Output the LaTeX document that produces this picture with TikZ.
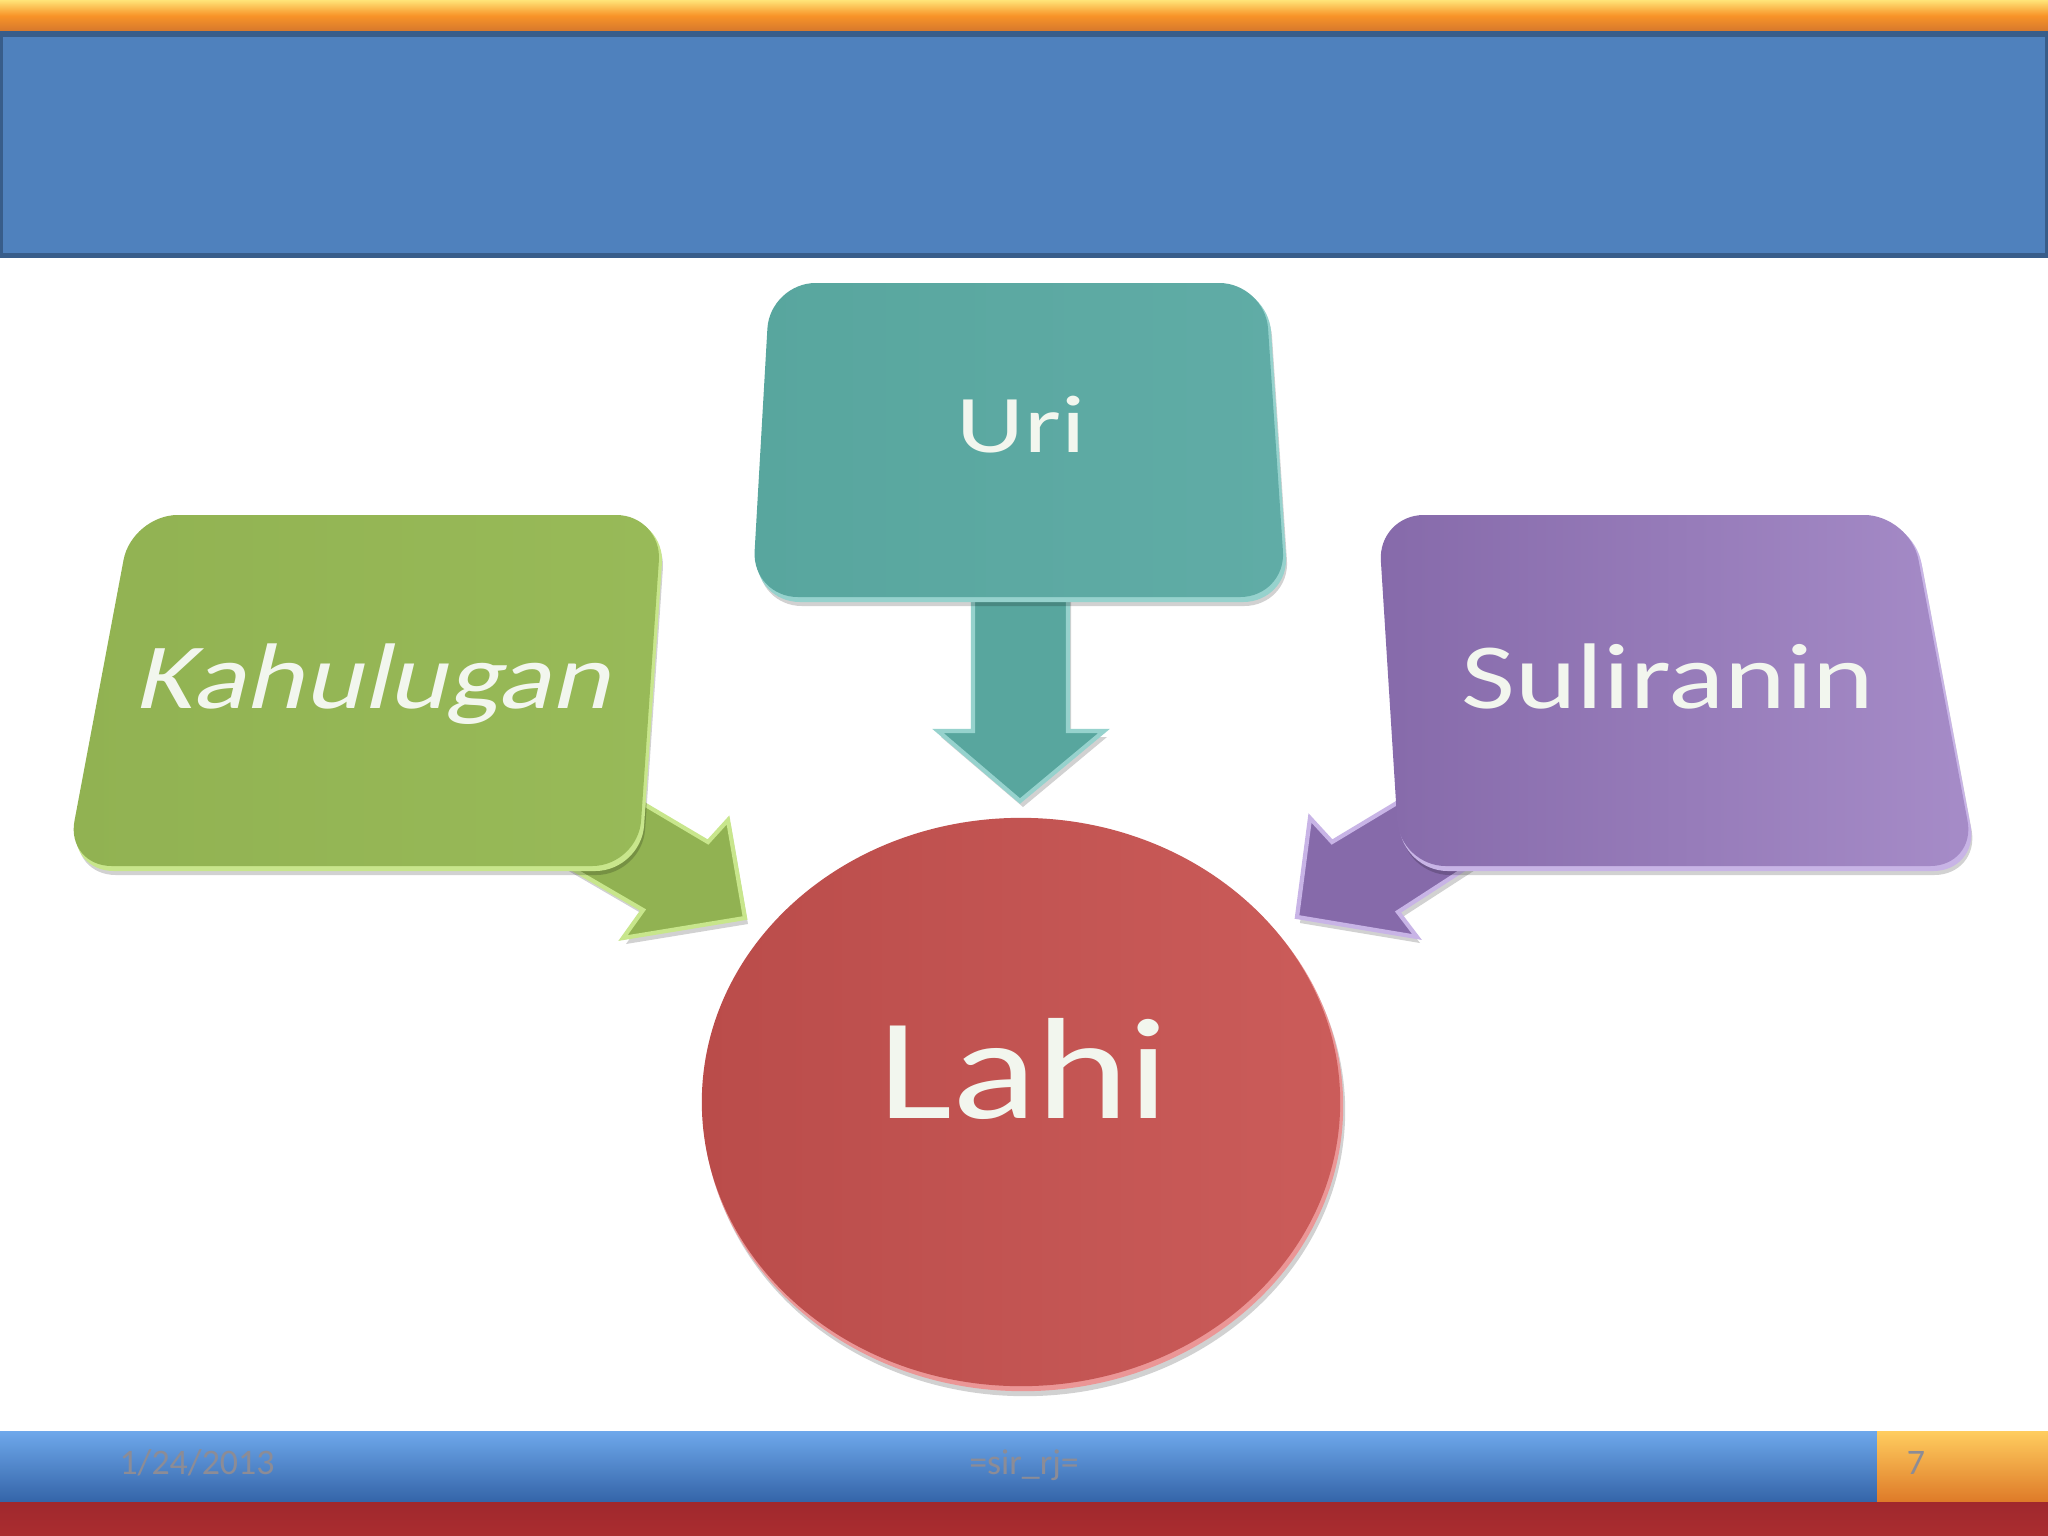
\documentclass[tikz,border=0pt]{standalone}
\usepackage{fontspec}
\setmainfont{Carlito}
\newfontfamily\slantfont{Carlito}[FakeSlant=0.2]
\usepackage{graphicx}
\definecolor{grnA}{RGB}{145,178,82}
\definecolor{grnB}{RGB}{152,186,88}
\definecolor{grnRim}{RGB}{200,230,140}
\definecolor{tealA}{RGB}{88,166,158}
\definecolor{tealB}{RGB}{96,172,166}
\definecolor{tealRim}{RGB}{150,210,205}
\definecolor{purA}{RGB}{134,106,170}
\definecolor{purB}{RGB}{166,140,200}
\definecolor{purRim}{RGB}{200,180,230}
\definecolor{redA}{RGB}{186,76,74}
\definecolor{redB}{RGB}{203,92,90}
\definecolor{redRim}{RGB}{235,150,150}
\definecolor{hdrBlue}{RGB}{79,129,189}
\definecolor{hdrEdge}{RGB}{56,93,138}
\definecolor{footGray}{RGB}{140,140,150}
\begin{document}
\begin{tikzpicture}[x=0.01cm,y=-0.01cm,
  lbl/.style={text={rgb,255:red,242;green,246;blue,238}, inner sep=0pt, anchor=base},
  foot/.style={text=footGray, inner sep=0pt, anchor=base, font=\fontsize{10.2pt}{12pt}\selectfont},
  shad/.style={fill=black, opacity=0.18},
  boxr/.style={rounded corners=13pt},
  ]
\useasboundingbox (0,0) rectangle (2048,1536);
\fill[white] (0,0) rectangle (2048,1536);

% ---------- header ----------
\shade[top color={rgb,255:red,255;green,228;blue,120}, bottom color={rgb,255:red,214;green,120;blue,45}, middle color={rgb,255:red,248;green,148;blue,40}] (0,0) rectangle (2048,31);
\fill[hdrEdge] (0,31) rectangle (2048,258);
\fill[hdrBlue] (3,37) rectangle (2045,253);

% ---------- footer ----------
\shade[top color={rgb,255:red,110;green,168;blue,235}, middle color={rgb,255:red,64;green,128;blue,208}, bottom color={rgb,255:red,52;green,100;blue,168}] (0,1431) rectangle (1877,1502);
\shade[top color={rgb,255:red,255;green,205;blue,95}, middle color={rgb,255:red,248;green,148;blue,30}, bottom color={rgb,255:red,222;green,122;blue,40}] (1877,1431) rectangle (2048,1502);
\shade[top color={rgb,255:red,160;green,40;blue,45}, middle color={rgb,255:red,196;green,58;blue,60}, bottom color={rgb,255:red,170;green,45;blue,48}] (0,1502) rectangle (2048,1536);
\node[foot] (date) at (197,1474) {1/24/2013};
\node[foot] (auth) at (1024,1474) {=sir\_rj=};
\node[foot] (page) at (1916,1474) {7};

% ---------- arrow coordinates ----------
\coordinate (g1) at (600,778);  \coordinate (g2) at (708,842);
\coordinate (g3) at (728,820);  \coordinate (g4) at (745,918);
\coordinate (g5) at (623,938);  \coordinate (g6) at (643,910);
\coordinate (g7) at (540,850);
\coordinate (t1) at (973,590);  \coordinate (t2) at (973,731);
\coordinate (t3) at (938,731);  \coordinate (t4) at (1020,801);
\coordinate (t5) at (1104,731); \coordinate (t6) at (1068,731);
\coordinate (t7) at (1068,590);
\coordinate (p1) at (1440,777); \coordinate (p2) at (1332,842);
\coordinate (p3) at (1310,818); \coordinate (p4) at (1297,917);
\coordinate (p5) at (1417,937); \coordinate (p6) at (1398,912);
\coordinate (p7) at (1500,846);

% ---------- arrows ----------
\fill[shad] ([shift={(3,6)}]g1) -- ([shift={(3,6)}]g2) -- ([shift={(3,6)}]g3) -- ([shift={(3,6)}]g4) -- ([shift={(3,6)}]g5) -- ([shift={(3,6)}]g6) -- ([shift={(3,6)}]g7) -- cycle;
\filldraw[fill=grnA, draw=grnRim, line width=1.2pt, line join=miter] (g1) -- (g2) -- (g3) -- (g4) -- (g5) -- (g6) -- (g7) -- cycle;
\fill[shad] ([shift={(3,6)}]t1) -- ([shift={(3,6)}]t2) -- ([shift={(3,6)}]t3) -- ([shift={(3,6)}]t4) -- ([shift={(3,6)}]t5) -- ([shift={(3,6)}]t6) -- ([shift={(3,6)}]t7) -- cycle;
\filldraw[fill=tealA, draw=tealRim, line width=1.2pt, line join=miter] (t1) -- (t2) -- (t3) -- (t4) -- (t5) -- (t6) -- (t7) -- cycle;
\fill[shad] ([shift={(3,6)}]p1) -- ([shift={(3,6)}]p2) -- ([shift={(3,6)}]p3) -- ([shift={(3,6)}]p4) -- ([shift={(3,6)}]p5) -- ([shift={(3,6)}]p6) -- ([shift={(3,6)}]p7) -- cycle;
\filldraw[fill=purA, draw=purRim, line width=1.2pt, line join=miter] (p1) -- (p2) -- (p3) -- (p4) -- (p5) -- (p6) -- (p7) -- cycle;

% ---------- Kahulugan box ----------
\fill[shad, boxr] (136,523) -- (666,523) -- (642,875) -- (70,875) -- cycle;
\fill[grnRim, boxr] (134,518) -- (665,518) -- (641,871) -- (68,871) -- cycle;
\shade[boxr, left color=grnA, right color=grnB] (132,515) -- (662,515) -- (638,866) -- (66,866) -- cycle;
\node[lbl, font=\slantfont\fontsize{26.5pt}{30pt}\selectfont] (kah) at (372,708) {\scalebox{1.2}[1]{Kahulugan}};

% ---------- Uri box ----------
\fill[shad, boxr] (774,291) -- (1269,291) -- (1290,606) -- (756,606) -- cycle;
\fill[tealRim, boxr] (772,286) -- (1268,286) -- (1289,602) -- (754,602) -- cycle;
\shade[boxr, left color=tealA, right color=tealB] (770,283) -- (1265,283) -- (1286,597) -- (752,597) -- cycle;
\node[lbl, font=\fontsize{23.3pt}{28pt}\selectfont] (uri) at (1021,452) {\scalebox{1.29}[1]{Uri}};

% ---------- Suliranin box ----------
\fill[shad, boxr] (1382,523) -- (1914,523) -- (1980,875) -- (1404,875) -- cycle;
\fill[purRim, boxr] (1380,518) -- (1913,518) -- (1979,871) -- (1402,871) -- cycle;
\shade[boxr, left color=purA, right color=purB] (1378,515) -- (1910,515) -- (1976,866) -- (1400,866) -- cycle;
\node[lbl, font=\fontsize{26.5pt}{30pt}\selectfont] (sul) at (1668,708) {\scalebox{1.256}[1]{Suliranin}};

% ---------- Lahi circle ----------
\fill[shad] (1025,1111) ellipse [x radius=3.2cm, y radius=2.85cm];
\fill[redRim] (1023,1106) ellipse [x radius=3.2cm, y radius=2.85cm];
\shade[left color=redA, right color=redB] (1021,1102) ellipse [x radius=3.19cm, y radius=2.84cm];
\node[lbl, font=\fontsize{41pt}{47pt}\selectfont] (lahi) at (1024,1118) {\scalebox{1.22}[1]{Lahi}};
\end{tikzpicture}
\end{document}
